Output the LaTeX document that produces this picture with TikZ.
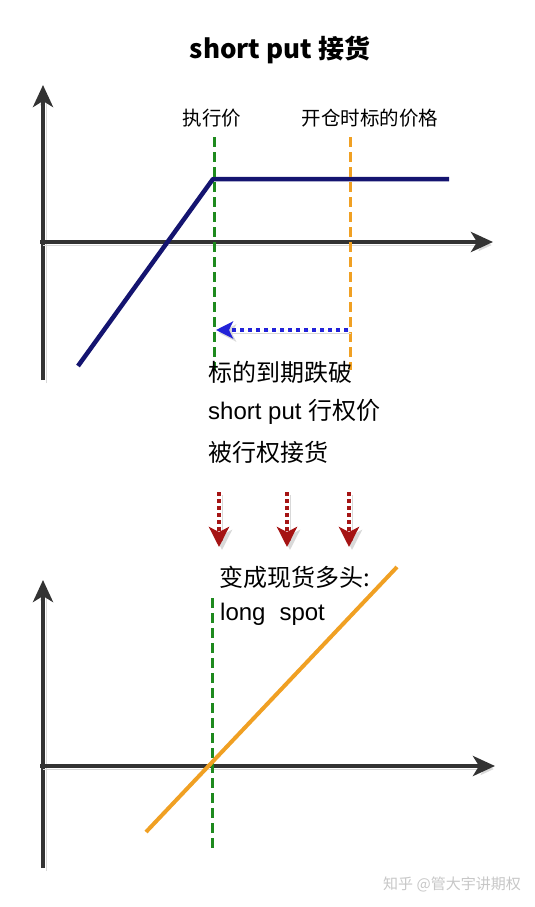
\documentclass[tikz,border=0pt]{standalone}
\usepackage{fontspec}
\setmainfont{Liberation Sans}
\newfontfamily\cjk{Noto Sans CJK SC}
\usetikzlibrary{arrows.meta}
\definecolor{axisgray}{HTML}{333333}
\definecolor{payoff}{HTML}{141470}
\definecolor{strike}{HTML}{1E8A1E}
\definecolor{spot}{HTML}{F0A023}
\definecolor{moveblue}{HTML}{2222D8}
\definecolor{darkred}{HTML}{A51414}
\begin{document}
\begin{tikzpicture}
    	[x=1pt, y=-1pt,
    	shade/.style={preaction={draw=black!15, transform canvas={shift={(3pt,-3pt)}}}},
    	axis/.style={draw=axisgray, line width=4pt, shade, -{Stealth[length=22pt, width=20pt, inset=6pt]}},
    	level/.style={line width=3pt, dash pattern=on 10pt off 5pt},
    	label/.style={font=\fontsize{19.5}{22}\selectfont\cjk, inner sep=0pt},
    	note/.style={font=\fontsize{24}{28}\selectfont, anchor=west, inner sep=0pt},
    	drop/.style={draw=darkred, line width=4pt, dash pattern=on 4pt off 3pt, shade, -{Stealth[length=20pt, width=20pt, inset=5pt, fill=darkred]}}]
    	
    	\useasboundingbox (0,0) rectangle (535,907);
    	
    	% title
    	\node[font=\fontsize{26}{30}\selectfont\cjk\bfseries] (title) at (280,50) {short put 接货};
    	
    	% top chart: short put
    	\draw[axis] (43,380) -- (43,85);
    	\draw[axis] (40,242) -- (493,242);
    	\draw[payoff, line width=4.5pt, line join=round] (78,366) -- (213,179) -- (449,179);
    	
    	\node[label] (k) at (212,118) {执行价};
    	\node[label] (s) at (370,118) {开仓时标的价格};
    	\coordinate (k1) at (214,137);
    	\coordinate (k2) at (214,370);
    	\coordinate (s1) at (350,137);
    	\coordinate (s2) at (350,370);
    	\draw[level, strike] (k1) -- (k2);
    	\draw[level, spot] (s1) -- (s2);
    	
    	\coordinate (a1) at (348,330);
    	\coordinate (a2) at (216,330);
    	\draw[moveblue, line width=4pt, dash pattern=on 4pt off 4pt, shade, -{Stealth[length=17pt, width=17pt, inset=4pt]}] (a1) -- (a2);
    	
    	\node[note] (t1) at (208,372) {\cjk 标的到期跌破};
    	\node[note] (t2) at (208,412) {short put {\cjk 行权价}};
    	\node[note] (t3) at (208,452) {\cjk 被行权接货};
    	
    	% red arrows
    	\foreach \x [count=\i] in {219,287,349} {
    		\coordinate (d\i) at (\x,492);
    		\coordinate (e\i) at (\x,547);
    		\draw[drop] (d\i) -- (e\i);
    	}
    	
    	\node[note] (t4) at (219,577) {\cjk 变成现货多头:};
    	\node[note] (t5) at (220,614) {long\hspace{14pt}spot};
    	
    	% bottom chart: long spot
    	\draw[axis] (43,868) -- (43,580);
    	\draw[axis] (40,766) -- (495,766);
    	\coordinate (k3) at (212,598);
    	\coordinate (k4) at (212,852);
    	\draw[level, strike] (k3) -- (k4);
    	\draw[spot, line width=4pt] (146,832) -- (397,567);
    	
    	\node[font=\fontsize{15}{18}\selectfont\cjk, text=black!22] (mark) at (452,884) {知乎 @管大宇讲期权};
    \end{tikzpicture}
\end{document}
